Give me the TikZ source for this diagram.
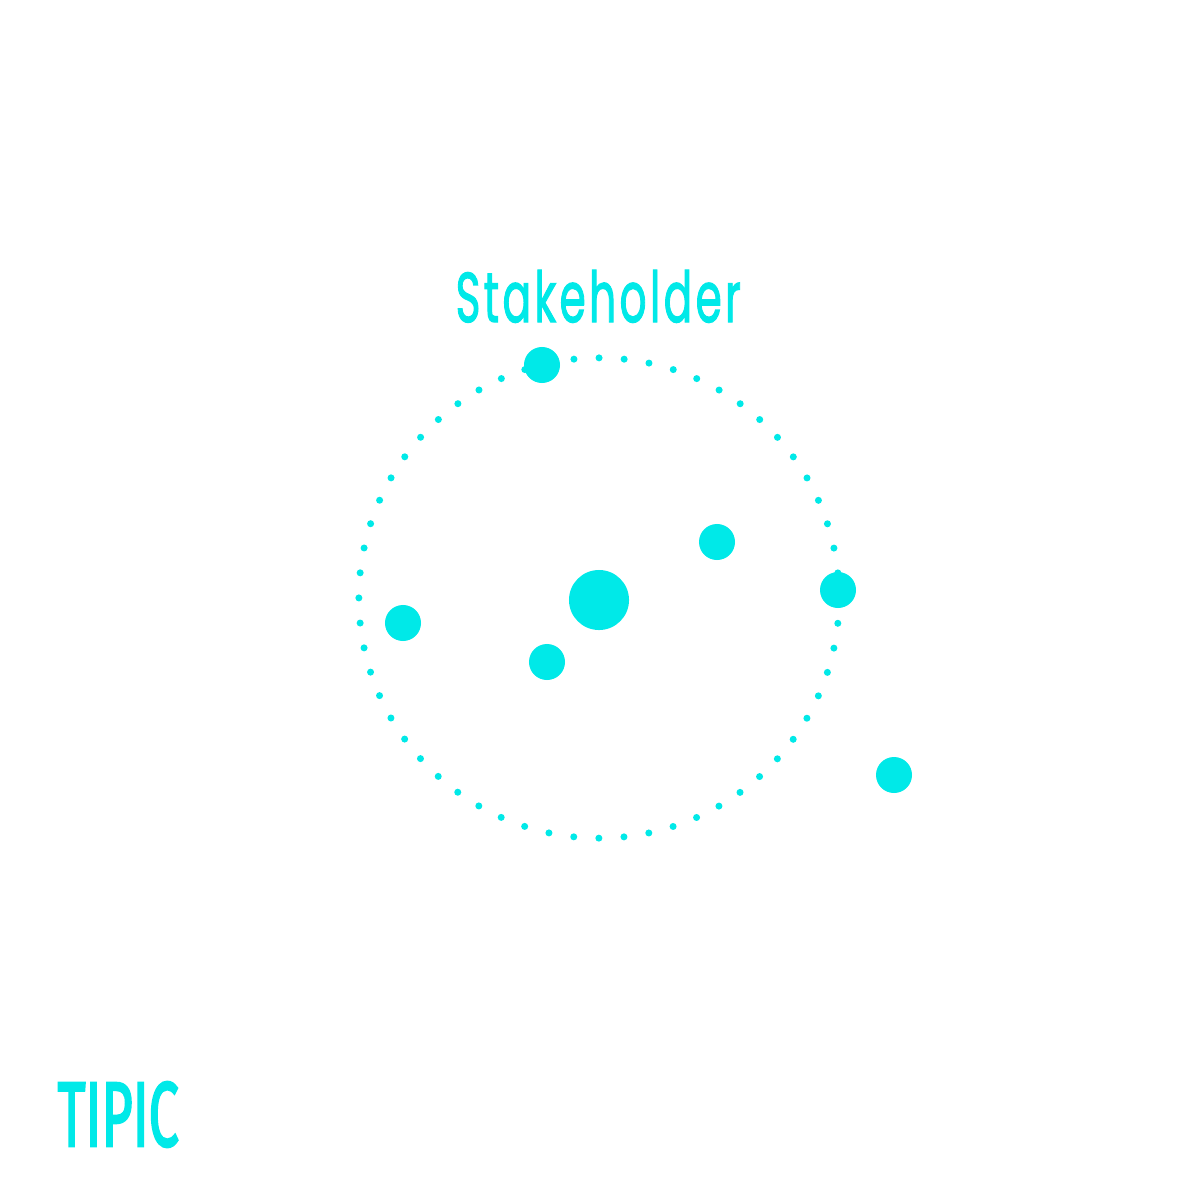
\documentclass[tikz,border=0pt]{standalone}
\usepackage{fontspec}
\setmainfont{Fira Sans}
\newfontfamily\handfont[FakeBold=2,LetterSpace=8]{Poppins}
\newfontfamily\logofont[FakeBold=3]{Fira Sans}
\definecolor{cy}{RGB}{0,233,232}
\begin{document}
\begin{tikzpicture}[x=0.01cm,y=-0.01cm,
  dotnode/.style={circle,fill=cy,inner sep=0pt,minimum size=0.36cm},
  bignode/.style={circle,fill=cy,inner sep=0pt,minimum size=0.6cm}]
\fill[white] (0,0) rectangle (1200,1200);
\useasboundingbox (0,0) rectangle (1200,1200);
\node[circle,inner sep=0pt,minimum size=4.8cm] (ring) at (599,598) {};
\draw[cy,line width=0.07cm,line cap=round,dash pattern=on 0cm off 0.25133cm] (599,598) circle[radius=2.4cm];
\node[bignode] (center) at (599,600) {};
\node[dotnode] (top) at (542,365) {};
\node[dotnode] (ur) at (717,542) {};
\node[dotnode] (right) at (838,590) {};
\node[dotnode] (left) at (403,623) {};
\node[dotnode] (low) at (547,662) {};
\node[dotnode] (out) at (894,775) {};
\node[anchor=base west,inner sep=0pt,text=cy] (title) at (455,322) {\resizebox{2.85cm}{0.52cm}{\handfont Stakeholder}};
\node[anchor=base west,inner sep=0pt,text=cy] (logo) at (57,1146) {\resizebox{1.21cm}{0.64cm}{\logofont TIPIC}};
\end{tikzpicture}
\end{document}
